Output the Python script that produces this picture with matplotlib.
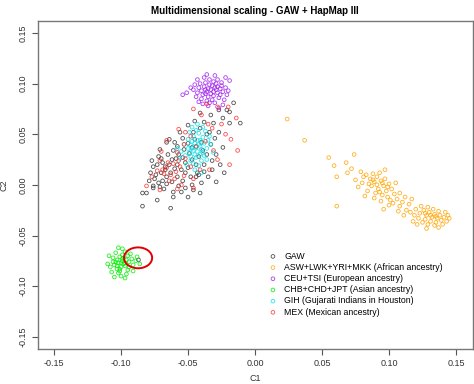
import matplotlib.pyplot as plt
from matplotlib.patches import Ellipse
import numpy as np

plt.rcParams['font.family'] = ['Liberation Sans', 'DejaVu Sans']

# GAW samples (black)
gaw = [(-0.084,-0.021),(-0.063,-0.023),(-0.073,-0.015),(-0.084,-0.008),(-0.081,-0.008),(-0.076,-0.003),
       (-0.071,-0.002),(-0.061,-0.007),(-0.061,-0.012),(-0.041,-0.008),(-0.029,0.003),(-0.023,0.012),
       (-0.032,0.015),(-0.042,0.010),(-0.044,0.008),(-0.064,0.045),(-0.066,0.042),(-0.056,0.052),
       (-0.050,0.059),(-0.041,0.071),(-0.033,0.069),(-0.027,0.074),(-0.021,0.074),(-0.019,0.072),
       (-0.016,0.081),(-0.019,0.061),(-0.011,0.061),(-0.024,0.037),(-0.030,0.046),(-0.034,0.052),
       (-0.027,0.052),(-0.072,0.028),(-0.069,0.022),(-0.067,0.018),(-0.070,0.012),(-0.074,0.010),
       (-0.066,0.008),(-0.063,0.012),(-0.060,0.016),(-0.058,0.020),(-0.062,0.025),(-0.057,0.030),
       (-0.054,0.027),(-0.052,0.022),(-0.055,0.015),(-0.058,0.008),(-0.062,0.003),(-0.066,0.001),
       (-0.069,0.004),(-0.072,0.002),(-0.075,0.006),(-0.078,0.012),(-0.076,0.018),(-0.073,0.020),
       (-0.065,0.030),(-0.061,0.034),(-0.058,0.038),(-0.053,0.035),(-0.049,0.031),(-0.047,0.025),
       (-0.050,0.017),(-0.052,0.012),(-0.048,0.008),(-0.054,0.004),(-0.057,-0.001),(-0.052,-0.003),
       (-0.047,0.000),(-0.044,0.020),(-0.042,0.028),(-0.039,0.034),(-0.040,0.042),(-0.045,0.045),
       (-0.050,0.041),(-0.054,0.046),(-0.046,0.052),(-0.041,0.056),(-0.036,0.050),(-0.033,0.040),
       (-0.036,0.030),(-0.032,0.024),(-0.038,0.020),(-0.035,0.008),(-0.040,0.002),(-0.067,0.015),
       (-0.064,0.020),(-0.059,0.026),(-0.070,0.026),(-0.076,-0.001),(-0.079,0.004),(-0.068,-0.004),
       (-0.055,-0.007),(-0.050,-0.012),(-0.046,-0.005),(-0.038,0.013),(-0.029,0.030),(-0.026,0.020),
       (-0.045,0.063),(-0.038,0.062),(-0.031,0.061),(-0.024,0.066),(-0.047,0.037),(-0.043,0.012),
       (-0.060,0.042),(-0.071,0.035),(-0.077,0.024),(-0.087,-0.074)]

# ASW+LWK+YRI+MKK (orange)
afr = [(0.024,0.065),(0.037,0.044),(0.055,0.027),(0.059,0.019),(0.068,0.022),(0.074,0.030),
       (0.061,0.008),(0.069,0.012),(0.077,-0.002),(0.061,-0.021),(0.072,0.016),(0.079,0.013),
       (0.081,0.008),(0.075,0.005),(0.083,0.010),(0.086,0.006),(0.089,0.003),(0.091,0.008),
       (0.094,0.004),(0.087,-0.001),(0.092,-0.004),(0.096,-0.001),(0.098,-0.006),(0.095,-0.010),
       (0.090,-0.008),(0.085,0.001),(0.088,0.011),(0.093,0.012),(0.097,0.006),(0.100,0.001),
       (0.102,-0.004),(0.099,-0.012),(0.104,-0.009),(0.101,-0.015),(0.084,-0.006),(0.080,0.002),
       (0.089,-0.013),(0.094,-0.016),(0.106,-0.014),(0.108,-0.008),(0.105,0.002),(0.097,0.015),
       (0.091,0.000),(0.095,0.002),(0.093,-0.007),(0.088,0.005),(0.099,-0.002),(0.103,-0.018),
       (0.110,-0.017),(0.112,-0.012),(0.108,-0.021),(0.115,-0.019),(0.113,-0.025),(0.117,-0.014),
       (0.082,-0.011),(0.100,-0.020),(0.096,-0.024),(0.120,-0.024),(0.123,-0.028),(0.126,-0.025),
       (0.128,-0.030),(0.130,-0.027),(0.132,-0.032),(0.134,-0.029),(0.136,-0.033),(0.138,-0.030),
       (0.127,-0.034),(0.131,-0.036),(0.135,-0.037),(0.139,-0.035),(0.141,-0.032),(0.137,-0.026),
       (0.133,-0.024),(0.129,-0.022),(0.124,-0.021),(0.122,-0.033),(0.125,-0.037),(0.119,-0.030),
       (0.143,-0.036),(0.140,-0.039),(0.134,-0.040),(0.129,-0.039),(0.144,-0.030),(0.142,-0.027),
       (0.118,-0.036),(0.121,-0.039),(0.131,-0.030),(0.135,-0.031),(0.127,-0.028),(0.116,-0.027),
       (0.111,-0.030),(0.107,-0.026),(0.145,-0.033),(0.137,-0.042),(0.128,-0.043)]

# CEU+TSI (purple)
eur = [(-0.033,0.094),(-0.036,0.092),(-0.030,0.096),(-0.038,0.097),(-0.028,0.091),(-0.034,0.099),
       (-0.040,0.093),(-0.031,0.088),(-0.026,0.095),(-0.035,0.087),(-0.039,0.089),(-0.029,0.100),
       (-0.042,0.096),(-0.024,0.092),(-0.037,0.101),(-0.032,0.084),(-0.027,0.086),(-0.043,0.091),
       (-0.025,0.098),(-0.034,0.104),(-0.041,0.100),(-0.030,0.081),(-0.036,0.083),(-0.044,0.087),
       (-0.022,0.096),(-0.038,0.106),(-0.028,0.104),(-0.021,0.089),(-0.046,0.094),(-0.031,0.092),
       (-0.035,0.095),(-0.033,0.090),(-0.037,0.094),(-0.029,0.094),(-0.040,0.085),(-0.026,0.089),
       (-0.032,0.098),(-0.039,0.080),(-0.023,0.084),(-0.045,0.099),(-0.051,0.091),(-0.054,0.089),
       (-0.019,0.103),(-0.022,0.106),(-0.027,0.076),(-0.024,0.079),(-0.035,0.078),(-0.042,0.082),
       (-0.020,0.093),(-0.048,0.096),(-0.036,0.109),(-0.030,0.108),(-0.043,0.104),(-0.025,0.101),
       (-0.034,0.081),(-0.031,0.102),(-0.037,0.090),(-0.028,0.097)]

# CHB+CHD+JPT (green)
asn = [(-0.100,-0.077),(-0.103,-0.074),(-0.097,-0.080),(-0.105,-0.079),(-0.098,-0.072),(-0.101,-0.083),
       (-0.094,-0.076),(-0.106,-0.072),(-0.099,-0.069),(-0.102,-0.087),(-0.095,-0.084),(-0.108,-0.081),
       (-0.092,-0.073),(-0.104,-0.067),(-0.097,-0.066),(-0.100,-0.090),(-0.091,-0.079),(-0.107,-0.086),
       (-0.096,-0.088),(-0.103,-0.080),(-0.099,-0.075),(-0.101,-0.071),(-0.098,-0.078),(-0.102,-0.077),
       (-0.096,-0.074),(-0.104,-0.076),(-0.100,-0.081),(-0.094,-0.081),(-0.106,-0.076),(-0.093,-0.068),
       (-0.089,-0.075),(-0.110,-0.078),(-0.097,-0.092),(-0.105,-0.091),(-0.088,-0.071),(-0.099,-0.063),
       (-0.102,-0.062),(-0.109,-0.070),(-0.091,-0.085),(-0.086,-0.078),(-0.101,-0.085),(-0.095,-0.070),
       (-0.097,-0.077),(-0.103,-0.083),(-0.099,-0.073)]

# GIH (cyan)
gih = [(-0.044,0.037),(-0.046,0.034),(-0.042,0.040),(-0.048,0.039),(-0.040,0.035),(-0.045,0.030),
       (-0.043,0.044),(-0.049,0.032),(-0.038,0.041),(-0.047,0.043),(-0.041,0.030),(-0.050,0.036),
       (-0.039,0.047),(-0.044,0.027),(-0.052,0.029),(-0.036,0.036),(-0.046,0.048),(-0.042,0.051),
       (-0.048,0.024),(-0.040,0.024),(-0.053,0.040),(-0.035,0.044),(-0.044,0.054),(-0.050,0.045),
       (-0.038,0.029),(-0.043,0.033),(-0.045,0.041),(-0.041,0.038),(-0.047,0.036),(-0.039,0.032),
       (-0.055,0.033),(-0.033,0.040),(-0.046,0.021),(-0.042,0.019),(-0.049,0.052),(-0.037,0.053),
       (-0.051,0.020),(-0.056,0.026),(-0.034,0.048),(-0.043,0.060),(-0.047,0.057),(-0.039,0.057),
       (-0.045,0.015),(-0.040,0.012),(-0.058,0.036),(-0.031,0.032),(-0.044,0.038),(-0.048,0.028),
       (-0.041,0.044),(-0.036,0.025)]

# MEX (red)
mex = [(-0.057,0.055),(-0.028,0.077),(-0.018,0.045),(-0.014,0.066),(-0.081,-0.001),(-0.046,-0.003),
       (-0.028,0.025),(-0.069,0.015),(-0.065,0.022),(-0.071,0.024),(-0.066,0.017),(-0.063,0.010),
       (-0.059,0.013),(-0.056,0.018),(-0.061,0.021),(-0.068,0.011),(-0.073,0.014),(-0.057,0.024),
       (-0.052,0.026),(-0.060,0.006),(-0.064,0.004),(-0.053,0.009),(-0.066,0.044),(-0.052,0.052),
       (-0.035,0.060),(-0.032,0.056),(-0.020,0.077),(-0.048,0.048),(-0.044,0.038),(-0.037,0.043),
       (-0.031,0.034),(-0.034,0.015),(-0.041,0.015),(-0.046,0.006),(-0.058,-0.004),(-0.071,-0.005),
       (-0.077,0.008),(-0.053,0.040),(-0.058,0.032),(-0.025,0.060),(-0.022,0.050),(-0.040,0.069),
       (-0.046,0.075),(-0.036,0.080),(-0.013,0.034),(-0.019,0.020),(-0.048,0.018),(-0.055,0.000),
       (-0.070,0.033)]

groups = [
    (gaw, "#333333", "GAW"),
    (afr, "#FFA500", "ASW+LWK+YRI+MKK (African ancestry)"),
    (eur, "#A020F0", "CEU+TSI (European ancestry)"),
    (asn, "#00EE00", "CHB+CHD+JPT (Asian ancestry)"),
    (gih, "#00E5EE", "GIH (Gujarati Indians in Houston)"),
    (mex, "#FF3030", "MEX (Mexican ancestry)"),
]

ticks = [-0.15, -0.10, -0.05, 0.00, 0.05, 0.10, 0.15]

fig = plt.figure(figsize=(4.74, 3.84), dpi=100)
ax = fig.add_axes([38/474, 1-349/384, 435/474, 328/384])

for pts, col, lab in groups:
    arr = np.array(pts)
    ax.scatter(arr[:, 0], arr[:, 1], s=7, facecolors='none', edgecolors=col,
               linewidths=0.6, alpha=0.85, label=lab)

# red circle highlighting the outlier
ax.add_patch(Ellipse((-0.0873, -0.072), 0.021, 0.0206, fill=False,
                     edgecolor='#E00000', linewidth=1.4))

ax.set_xlim(-0.162, 0.1627)
ax.set_ylim(-0.162, 0.1618)
ax.set_xticks(ticks)
ax.set_xticklabels(["%.2f" % t for t in ticks], fontsize=6.5, color='#333333')
ax.set_yticks(ticks)
ax.set_yticklabels(["%.2f" % t for t in ticks], fontsize=6.5, color='#333333',
                   rotation=90, va='center')
ax.tick_params(direction='out', length=4, width=0.8, colors='#555555', labelcolor='#333333')
for sp in ax.spines.values():
    sp.set_color('#777777')
    sp.set_linewidth(1.0)

ax.set_xlabel("C1", fontsize=6.5, color='#333333', labelpad=4)
ax.set_ylabel("C2", fontsize=6.5, color='#333333', labelpad=7)
fig.text(255/474, 1-11/384, "Multidimensional scaling - GAW + HapMap III",
         ha='center', va='center', fontsize=7, fontweight='bold')

ax.legend(loc='upper left', bbox_to_anchor=(0.52, 0.31), frameon=False,
          fontsize=6.3, labelspacing=0.25, handletextpad=0.8, borderpad=0,
          handlelength=1.0, markerscale=1.0, scatterpoints=1)

fig.savefig("out.png", dpi=100)
